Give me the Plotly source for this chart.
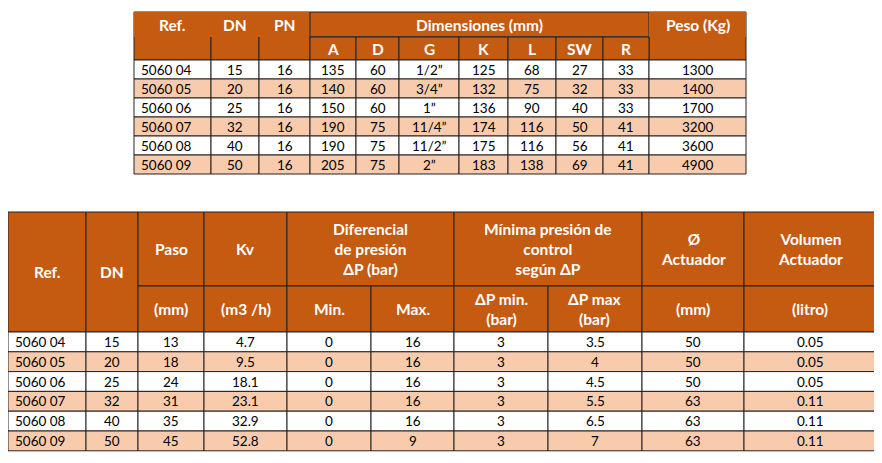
import plotly.graph_objects as go

ORANGE = "#C55A11"
PEACH = "#F8CBAD"
FONT = "Lato"

# ---- tabla 1 ----
refs = ["5060 04", "5060 05", "5060 06", "5060 07", "5060 08", "5060 09"]
dn = [15, 20, 25, 32, 40, 50]
pn = [16, 16, 16, 16, 16, 16]
dim_a = [135, 140, 150, 190, 190, 205]
dim_d = [60, 60, 60, 75, 75, 75]
dim_g = ["1/2\u201d", "3/4\u201d", "1\u201d", "11/4\u201d", "11/2\u201d", "2\u201d"]
dim_k = [125, 132, 136, 174, 175, 183]
dim_l = [68, 75, 90, 116, 116, 138]
dim_sw = [27, 32, 40, 50, 56, 69]
dim_r = [33, 33, 33, 41, 41, 41]
peso = [1300, 1400, 1700, 3200, 3600, 4900]

# ---- tabla 2 ----
paso = [13, 18, 24, 31, 35, 45]
kv = [4.7, 9.5, 18.1, 23.1, 32.9, 52.8]
dp_min = [0, 0, 0, 0, 0, 0]
dp_max = [16, 16, 16, 16, 16, 9]
ctrl_min = [3, 3, 3, 3, 3, 3]
ctrl_max = [3.5, 4, 4.5, 5.5, 6.5, 7]
act_diam = [50, 50, 50, 63, 63, 63]
act_vol = [0.05, 0.05, 0.05, 0.11, 0.11, 0.11]

HEAD = 15.5
BODY = 13.5

shapes, annots = [], []


def cell(x0, x1, y0, y1, text, fill, bold=False, align="center", size=BODY):
    shapes.append(dict(type="rect", x0=x0, x1=x1, y0=y0, y1=y1, fillcolor=fill,
                       line=dict(color="#222", width=1), layer="below"))
    if text == "":
        return
    color = "white" if fill == ORANGE else "black"
    t = f"<b>{text}</b>" if bold else str(text)
    x = (x0 + x1) / 2 if align == "center" else x0 + 5
    annots.append(dict(x=x, y=(y0 + y1) / 2, text=t, showarrow=False,
                       xanchor="center" if align == "center" else "left",
                       yanchor="middle", align="center",
                       font=dict(family=FONT, size=size, color=color)))


def body(xs, y_top, rh, cols):
    for r in range(len(refs)):
        fill = "white" if r % 2 == 0 else PEACH
        y0 = y_top + r * rh
        for c, col in enumerate(cols):
            cell(xs[c], xs[c + 1], y0, y0 + rh, col[r], fill,
                 align="left" if c == 0 else "center")


# tabla 1
x1 = [134, 211, 259, 310, 356, 399, 459, 508, 556, 603, 649, 746]
h0, h1, h2 = 12, 37, 60
for i in (0, 1, 2, 10):
    cell(x1[i], x1[i + 1], h0, h2, "", ORANGE)
for i, t in enumerate(["Ref.", "DN", "PN"]):
    cell(x1[i], x1[i + 1], h0, h1, t, ORANGE, bold=True, size=HEAD)
    shapes[-1]["line"]["width"] = 0
cell(x1[3], x1[10], h0, h1, "Dimensiones (mm)", ORANGE, bold=True, size=HEAD)
cell(x1[10], x1[11], h0, h1, "Peso (Kg)", ORANGE, bold=True, size=HEAD)
shapes[-1]["line"]["width"] = 0
for i, t in enumerate(["A", "D", "G", "K", "L", "SW", "R"]):
    cell(x1[3 + i], x1[4 + i], h1, h2, t, ORANGE, bold=True, size=HEAD)
body(x1, h2, 19, [refs, dn, pn, dim_a, dim_d, dim_g, dim_k, dim_l, dim_sw, dim_r, peso])

# tabla 2
x2 = [8, 86, 138, 204, 287, 371, 454, 548, 642, 744, 876]
g0, g1, g2 = 212, 286, 332
cell(x2[0], x2[1], g0, g2, "Ref.", ORANGE, bold=True, size=HEAD)
cell(x2[1], x2[2], g0, g2, "DN", ORANGE, bold=True, size=HEAD)
top = [(2, 3, "Paso"), (3, 4, "Kv"), (4, 6, "Diferencial<br>de presión<br>ΔP (bar)"),
       (6, 8, "Mínima presión de<br>control<br>según ΔP"),
       (8, 9, "Ø<br>Actuador"), (9, 10, "Volumen<br>Actuador")]
for a, b, t in top:
    cell(x2[a], x2[b], g0, g1, t, ORANGE, bold=True, size=HEAD)
sub = ["(mm)", "(m3 /h)", "Min.", "Max.", "ΔP min.<br>(bar)", "ΔP max<br>(bar)",
       "(mm)", "(litro)"]
for i, t in enumerate(sub):
    cell(x2[2 + i], x2[3 + i], g1, g2, t, ORANGE, bold=True, size=HEAD)
body(x2, g2, 19.8, [refs, dn, paso, kv, dp_min, dp_max, ctrl_min, ctrl_max,
                    act_diam, act_vol])

# the page has an 8px body margin, so the figure starts at (8, 8)
fig = go.Figure()
fig.update_layout(
    width=874, height=455, margin=dict(l=0, r=0, t=0, b=0),
    paper_bgcolor="white", plot_bgcolor="white",
    xaxis=dict(range=[8, 882], visible=False, fixedrange=True),
    yaxis=dict(range=[463, 8], visible=False, fixedrange=True),
    shapes=shapes, annotations=annots, showlegend=False,
)
fig.write_html("out.html")
